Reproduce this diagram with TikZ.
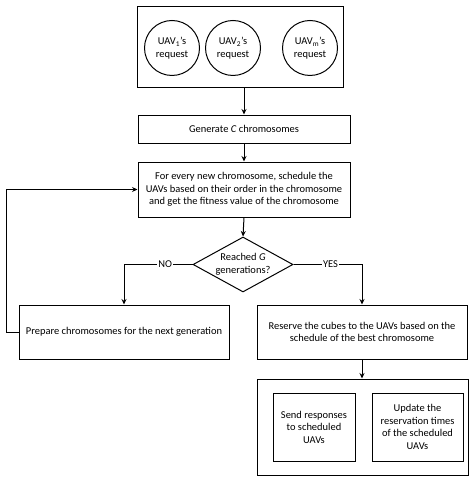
\documentclass[tikz,border=0pt]{standalone}
\usepackage{fontspec}
\setmainfont{Carlito}
\usetikzlibrary{shapes.geometric,arrows.meta,calc}
\begin{document}
\begin{tikzpicture}[x=1bp,y=-1bp,
  txt/.style={font=\fontsize{10.5}{12.6}\selectfont},
  box/.style={draw,line width=1pt,rectangle,inner sep=0pt,align=center,txt},
  circ/.style={draw,line width=1pt,circle,minimum size=55bp,inner sep=0pt,align=center,txt},
  arr/.style={line width=1pt,-{Stealth[length=5.5pt,width=5pt]}},
  lbl/.style={fill=white,inner sep=1pt,txt}]
\useasboundingbox (0,0) rectangle (474,482);
\node[box,minimum width=206bp,minimum height=80bp] (top) at (240.5,47) {};
\node[circ] (u1) at (172,48) {UAV\textsubscript{1}'s\\request};
\node[circ] (u2) at (233,48) {UAV\textsubscript{2}'s\\request};
\node[circ] (um) at (310,48) {UAV\textsubscript{m}'s\\request};
\node[box,minimum width=212bp,minimum height=28bp] (gen) at (244,129) {Generate \textit{C} chromosomes};
\node[box,minimum width=212bp,minimum height=55bp] (sched) at (244,189.5) {For every new chromosome, schedule the\\UAVs based on their order in the chromosome\\and get the fitness value of the chromosome};
\node[draw,line width=1pt,diamond,minimum width=100bp,minimum height=55bp,inner sep=0pt,
  label={[txt,align=center]center:Reached \textit{G}\\generations?}] (dec) at (243,264.5) {};
\node[box,minimum width=210bp,minimum height=54bp] (prep) at (124,332) {Prepare chromosomes for the next generation};
\node[box,minimum width=210bp,minimum height=54bp] (res) at (362,332) {Reserve the cubes to the UAVs based on the\\schedule of the best chromosome};
\node[box,minimum width=211bp,minimum height=96bp] (out) at (362.5,427) {};
\node[box,minimum width=82bp,minimum height=68bp] (send) at (314,427) {Send responses\\to scheduled\\UAVs};
\node[box,minimum width=91bp,minimum height=68bp] (upd) at (417.5,427) {Update the\\reservation times\\of the scheduled\\UAVs};
\draw[arr] (gen.north |- top.south) -- (gen.north);
\draw[arr] (gen.south) -- (sched.north);
\draw[arr] (sched.south) -- (dec.north);
\draw[arr] (dec.west) -| node[lbl,pos=0.2] {NO} (prep.north);
\draw[arr] (dec.east) -| node[lbl,pos=0.27] {YES} (res.north);
\draw[arr] (prep.west) -- ++(-12,0) |- (sched.west);
\draw[arr] (res.south) -- (out.north -| res.south);
\end{tikzpicture}
\end{document}
